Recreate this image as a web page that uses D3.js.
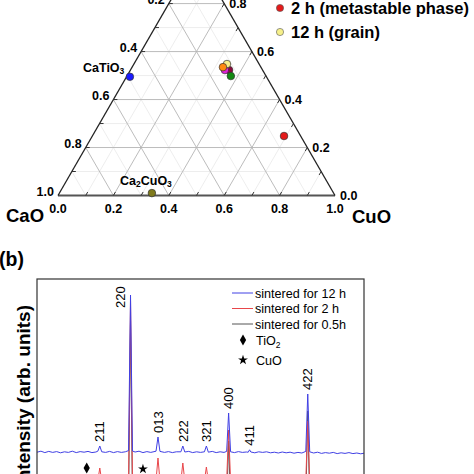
<!DOCTYPE html>
<html><head><meta charset="utf-8">
<script src="https://cdn.jsdelivr.net/npm/d3@7"></script>
<style>
html,body{margin:0;padding:0;background:#fff;}
svg{display:block;font-family:"Liberation Sans",Arial,Helvetica,sans-serif;}
</style></head>
<body>
<svg id="c" width="474" height="474"></svg>
<script>
// ---------- (a) ternary data ----------
const ternNames = ["CaTiO3", "Ca2CuO3", "2 h (metastable phase)", "maroon", "magenta", "12 h (grain)", "orange", "green"];
const ternCuO  = [0.012, 0.334, 0.692, 0.356, 0.341, 0.336, 0.328, 0.375];
const ternTiO2 = [0.495, 0.010, 0.248, 0.523, 0.523, 0.548, 0.535, 0.498];
const ternColors = ["#1a1aff", "#7f7a1c", "#e41a1a", "#8b0a3c", "#e020d8", "#f6f08a", "#ff8a10", "#128a12"];
const ternTicks = [0, 0.2, 0.4, 0.6, 0.8, 1.0];
const legendA = ["2 h (metastable phase)", "12 h (grain)"];
const legendAColors = ["#e41a1a", "#f6f08a"];

// ---------- (b) XRD data ----------
const hkl       = ["211", "220", "013", "222", "321", "400", "411", "422"];
const hklTheta  = [29.6, 34.3, 38.5, 42.3, 45.9, 49.3, 52.5, 61.4];
const hklTop    = [26.5, 102, 31, 26.5, 26.5, 43, 24.6, 52.5];

const blueTheta = [20,20.6,21.2,21.8,22.4,23,23.6,24.2,24.8,25.4,26,26.6,27.2,27.8,28.4,29,29.3,29.6,29.9,30.5,31.1,31.7,32.3,32.9,33.5,34.0,34.3,34.6,35,35.6,36.2,36.8,37.4,38.2,38.5,38.8,39.5,40.1,40.7,41.3,42.0,42.3,42.6,43.2,43.8,44.4,45,45.6,45.9,46.2,46.8,47.4,48,48.6,49.0,49.3,49.6,50.2,50.8,51.4,52.0,52.3,52.5,52.7,53.3,53.9,54.5,55.1,55.7,56.3,56.9,57.5,58.1,58.7,59.3,59.9,60.5,61.1,61.4,61.7,62.3,62.9,63.5,64.1,64.7,65.3,65.9,66.5,67.1,67.7,68.3,68.9,69.5,70];
const blueI     = [23.4,23.9,23.2,23.8,23.3,23.7,23.1,23.6,23.3,23.9,23.2,23.7,23.4,23.8,23.2,23.5,23.9,26.5,23.6,23.3,23.8,23.2,23.7,23.3,23.6,24.2,102,24.0,23.5,23.9,23.2,23.7,23.3,23.9,31,23.8,23.3,23.7,23.2,23.6,23.6,26.5,23.5,23.8,23.2,23.6,23.3,23.6,26.5,23.4,23.8,23.2,23.6,23.3,23.8,43,23.6,23.2,23.7,23.3,23.5,23.4,24.6,23.5,23.1,23.6,23.3,23.6,23.1,23.4,23.0,23.5,23.1,23.4,22.9,23.3,23.0,23.8,52.5,23.6,23.0,23.4,22.8,23.2,22.9,23.3,22.7,23.1,22.8,23.2,22.7,23.0,22.6,22.9];

const redTheta  = [20,27.2,27.4,27.6,29.3,29.6,29.9,34.0,34.3,34.6,35.4,35.6,35.8,38.2,38.5,38.8,42.0,42.3,42.6,45.6,45.9,46.2,49.0,49.3,49.6,52.3,52.5,52.7,61.1,61.4,61.7,70];
const redI      = [9,9,11,9,9.2,15.5,9,9.5,99,9.5,9,10.5,9,9.2,20.5,9,9,18,9,9,16,9,9.2,34.5,9,9,10.5,9,9,39,9,8.5];

const blackTheta = [20,29.3,29.6,29.9,34.0,34.3,34.6,38.2,38.5,38.8,42.0,42.3,42.6,45.6,45.9,46.2,49.0,49.3,49.6,61.1,61.4,61.7,70];
const blackI     = [-3,-3,1,-3,-2.5,89,-2.5,-3,6,-3,-3,3,-3,-3,2,-3,-3,29,-3,-3,44,-3,-3];

const phaseNames = ["TiO2", "CuO"];
const phaseTheta = [27.6, 36.2];
const phaseI     = [15.5, 15];

const legendB = ["sintered for 12 h", "sintered for 2 h", "sintered for 0.5h"];
const legendBColors = ["#4040e4", "#e8464a", "#555555"];

// ---------- drawing ----------
const svg = d3.select("#c");
svg.append("rect").attr("width",474).attr("height",474).attr("fill","#fff");

// ternary scales
const W = 277, H = W*Math.sqrt(3)/2;
const bx = d3.scaleLinear().domain([0,1]).range([58, 58+W]);
const hy = d3.scaleLinear().domain([0,1]).range([195.5, 195.5-H]);
const P = (c,t) => [bx(c + t/2), hy(t)];

const gT = svg.append("g");
const steps = d3.range(1,10).map(i=>i/10);
function gridLine(p1,p2,major){
  gT.append("line").attr("x1",p1[0]).attr("y1",p1[1]).attr("x2",p2[0]).attr("y2",p2[1])
    .attr("stroke", major ? "#b4b4b4" : "#e8e8e8").attr("stroke-width", major?0.9:0.8);
}
[false,true].forEach(maj=>{
  steps.forEach((v,i)=>{
    const major = (i%2===1);
    if(major!==maj) return;
    gridLine(P(0,v), P(1-v,v), major);       // constant TiO2
    gridLine(P(v,0), P(v,1-v), major);       // constant CuO
    gridLine(P(1-v,0), P(0,1-v), major);     // constant CaO
  });
});
// edges
gT.append("line").attr("x1",bx(0)).attr("y1",hy(0)).attr("x2",bx(1)).attr("y2",hy(0)).attr("stroke","#555").attr("stroke-width",1.8);
gT.append("line").attr("x1",bx(0)).attr("y1",hy(0)).attr("x2",P(0,1)[0]).attr("y2",P(0,1)[1]).attr("stroke","#222").attr("stroke-width",1.3);
gT.append("line").attr("x1",bx(1)).attr("y1",hy(0)).attr("x2",P(0,1)[0]).attr("y2",P(0,1)[1]).attr("stroke","#222").attr("stroke-width",1.3);
// ticks
d3.range(1,10).forEach(i=>{
  const v=i/10, L=4;
  let p=P(v,0); gT.append("line").attr("x1",p[0]).attr("y1",p[1]).attr("x2",p[0]+L*0.5).attr("y2",p[1]-L*0.866).attr("stroke","#333").attr("stroke-width",1);
  p=P(0,v); gT.append("line").attr("x1",p[0]).attr("y1",p[1]).attr("x2",p[0]+L).attr("y2",p[1]).attr("stroke","#333").attr("stroke-width",1);
  p=P(1-v,v); gT.append("line").attr("x1",p[0]).attr("y1",p[1]).attr("x2",p[0]-L*0.5).attr("y2",p[1]+L*0.866).attr("stroke","#333").attr("stroke-width",1);
});
// tick labels
const fmt = d3.format(".1f");
ternTicks.forEach(v=>{
  const p=P(v,0);
  gT.append("text").attr("x",p[0]).attr("y",p[1]+17).attr("text-anchor","middle")
    .attr("font-size",12.5).attr("font-weight","bold").text(fmt(v));
});
ternTicks.slice(0,5).forEach(t=>{
  let p=P(0,t);
  gT.append("text").attr("x",p[0]-4).attr("y",p[1]).attr("text-anchor","end")
    .attr("font-size",12.5).attr("font-weight","bold").text(fmt(1-t));
  p=P(1-t,t);
  gT.append("text").attr("x",p[0]+5).attr("y",p[1]+4.5).attr("text-anchor","start")
    .attr("font-size",12.5).attr("font-weight","bold").text(fmt(t));
});
// axis names
gT.append("text").attr("x",6).attr("y",222).attr("font-size",18.5).attr("font-weight","bold").text("CaO");
gT.append("text").attr("x",352).attr("y",223).attr("font-size",18.5).attr("font-weight","bold").text("CuO");
// compound labels (subscripts)
function chemLabel(x,y,parts){
  const t=gT.append("text").attr("x",x).attr("y",y).attr("font-size",12.5).attr("font-weight","bold");
  let down=false;
  parts.forEach(pt=>{
    const isSub = /^[0-9]$/.test(pt);
    const s=t.append("tspan").text(pt);
    if(isSub){ s.attr("font-size",8.5).attr("dy", down?0:1.5); down=true; }
    else { if(down){ s.attr("dy",-1.5); down=false; } }
  });
}
chemLabel(83,72,["CaTiO","3"]);
chemLabel(120,185,["Ca","2","CuO","3"]);
// points
ternCuO.forEach((c,i)=>{
  const p=P(c,ternTiO2[i]);
  gT.append("circle").attr("cx",p[0]).attr("cy",p[1]).attr("r",3.8)
    .attr("fill",ternColors[i]).attr("stroke","#333").attr("stroke-width",0.7);
});
// legend (a)
legendA.forEach((name,i)=>{
  const y=8+i*24;
  gT.append("circle").attr("cx",280).attr("cy",y).attr("r",3.6).attr("fill",legendAColors[i]).attr("stroke","#555").attr("stroke-width",0.6);
  gT.append("text").attr("x",291).attr("y",y+6).attr("font-size",16.5).attr("font-weight","bold").text(name);
});

// ---------- (b) ----------
const xS = d3.scaleLinear().domain([20,70]).range([37,364]);
const yS = d3.scaleLinear().domain([0,110]).range([499,279]);
const gB = svg.append("g");
gB.append("text").attr("x",-1).attr("y",266).attr("font-size",19.5).attr("font-weight","bold").text("(b)");
svg.append("defs").append("clipPath").attr("id","clipB").append("rect")
  .attr("x",xS.range()[0]).attr("y",yS.range()[1]).attr("width",xS.range()[1]-xS.range()[0]).attr("height",260);
const line = d3.line().x(d=>xS(d[0])).y(d=>yS(d[1]));
const series = [
  [blackTheta, blackI, legendBColors[2], 1.0],
  [redTheta, redI, legendBColors[1], 1.0],
  [blueTheta, blueI, legendBColors[0], 1.0]
];
series.forEach(s=>{
  gB.append("path").attr("clip-path","url(#clipB)")
    .attr("d", line(s[0].map((t,i)=>[t, s[1][i]])))
    .attr("fill","none").attr("stroke",s[2]).attr("stroke-width",s[3]).attr("stroke-linejoin","round");
});
gB.append("rect").attr("x",xS.range()[0]).attr("y",yS.range()[1]).attr("width",xS.range()[1]-xS.range()[0]).attr("height",260)
  .attr("fill","none").attr("stroke","#333").attr("stroke-width",1.2);
// hkl labels
const hklDx = [0,-10,0,0,0,0,0,0];
hkl.forEach((h,i)=>{
  const x=xS(hklTheta[i])+hklDx[i];
  const y= i===1 ? yS(hklTop[i])+13 : yS(hklTop[i])-4;
  gB.append("text").attr("transform",`translate(${x},${y}) rotate(-90)`).attr("dy","0.36em")
    .attr("font-size",13).text(h);
});
// phase symbols
const symDiamond = d3.symbol().type(d3.symbolDiamond).size(34);
const symStar = d3.symbol().type(d3.symbolStar).size(30);
phaseNames.forEach((n,i)=>{
  gB.append("path").attr("d", i===0?symDiamond():symStar())
    .attr("transform",`translate(${xS(phaseTheta[i])},${yS(phaseI[i])})`).attr("fill","#000");
});
// y title
gB.append("text").attr("transform","translate(29.5,305) rotate(-90)").attr("text-anchor","end")
  .attr("font-size",19).attr("font-weight","bold").text("Intensity (arb. units)");
// legend (b)
legendB.forEach((n,i)=>{
  const y=293+i*15.5;
  gB.append("line").attr("x1",232).attr("x2",253).attr("y1",y).attr("y2",y).attr("stroke",legendBColors[i]).attr("stroke-width",1);
  gB.append("text").attr("x",255).attr("y",y+4.5).attr("font-size",12.6).text(n);
});
gB.append("path").attr("d",symDiamond()).attr("transform","translate(243,340)").attr("fill","#000");
const tio=gB.append("text").attr("x",256).attr("y",345).attr("font-size",12.6);
tio.append("tspan").text("TiO");
tio.append("tspan").attr("font-size",8.5).attr("dy",3).text("2");
gB.append("path").attr("d",symStar()).attr("transform","translate(243,360)").attr("fill","#000");
gB.append("text").attr("x",256).attr("y",364.5).attr("font-size",12.6).text("CuO");
</script>
</body></html>
